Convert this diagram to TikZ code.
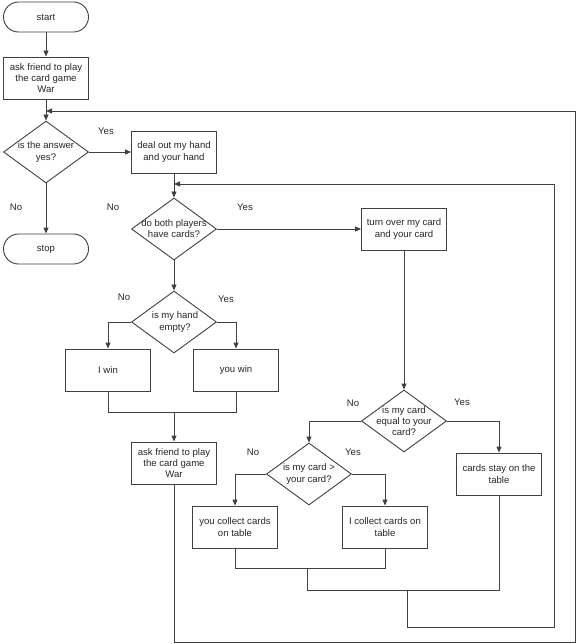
\documentclass[tikz,border=0pt]{standalone}
\usepackage{fontspec}
\setmainfont{Liberation Sans}
\usetikzlibrary{shapes.geometric,arrows.meta}
\tikzset{
  every node/.style={font=\fontsize{9.6}{11.2}\selectfont, text=black!85},
  line/.style={draw=black!75, line width=0.9bp},
  arr/.style={line, -{Triangle[length=6bp,width=5bp]}},
  term/.style={line, rectangle, rounded corners=15bp, minimum width=85bp, minimum height=30bp, inner sep=0pt},
  proc/.style={line, rectangle, minimum width=85bp, minimum height=42bp, inner sep=0pt, align=center},
  dec/.style={line, diamond, minimum width=85bp, minimum height=62bp, inner sep=0pt},
  dlab/.style={align=center, inner sep=0pt},
  ans/.style={inner sep=0pt}
}
\begin{document}
\begin{tikzpicture}[x=1bp,y=-1bp]
\useasboundingbox (0,0) rectangle (576,644);
% nodes
\node[term] (start) at (46,17) {start};
\node[proc] (ask1) at (46,78) {ask friend to play\\the card game\\War};
\node[dec] (d1) at (46,152) {};
\node[dlab] at (46,152) {is the answer\\yes?};
\node[term] (stop) at (46,249) {stop};
\node[proc] (deal) at (174,152) {deal out my hand\\and your hand};
\node[dec] (d2) at (174,229) {};
\node[dlab] at (174,229) {do both players\\have cards?};
\node[proc] (turn) at (404,229) {turn over my card\\and your card};
\node[dec] (d3) at (174,322) {};
\node[dlab] at (175,322) {is my hand\\empty?};
\node[proc] (iwin) at (108,370) {I win};
\node[proc] (youwin) at (236,370) {you win};
\node[proc] (ask2) at (174,463) {ask friend to play\\the card game\\War};
\node[dec] (d4) at (404,421) {};
\node[dlab] at (404,421) {is my card\\equal to your\\card?};
\node[dec] (d5) at (309,474) {};
\node[dlab] at (309,474) {is my card >\\your card?};
\node[proc] (stay) at (499,474) {cards stay on the\\table};
\node[proc] (you) at (235,527) {you collect cards\\on table};
\node[proc] (icol) at (385,527) {I collect cards on\\table};
% answer labels
\node[ans] (y1) at (106,131) {Yes};
\node[ans] (n1) at (16,207) {No};
\node[ans] (y2) at (245,207) {Yes};
\node[ans] (n2) at (113,207) {No};
\node[ans] (n3) at (124,297) {No};
\node[ans] (y3) at (226,299) {Yes};
\node[ans] (n4) at (353,403) {No};
\node[ans] (y4) at (462,402) {Yes};
\node[ans] (n5) at (253,452) {No};
\node[ans] (y5) at (353,452) {Yes};
% coordinates
\coordinate (c1) at (174,642);
\coordinate (c2) at (575,642);
\coordinate (c3) at (575,111);
\coordinate (c4) at (46,111);
\coordinate (m1) at (174,412);
\coordinate (m2) at (307,568);
\coordinate (m3) at (307,590);
\coordinate (m4) at (407,590);
\coordinate (m5) at (407,627);
\coordinate (m6) at (554,627);
\coordinate (m7) at (554,184);
\coordinate (m8) at (174,184);
% connectors
\draw[arr] (start) -- (ask1);
\draw[arr] (ask1) -- (d1);
\draw[arr] (d1) -- (deal);
\draw[arr] (d1) -- (stop);
\draw[arr] (deal) -- (d2);
\draw[arr] (d2) -- (turn);
\draw[arr] (d2) -- (d3);
\draw[arr] (d3.west) -| (iwin.north);
\draw[arr] (d3.east) -| (youwin.north);
\draw[line] (iwin.south) |- (m1);
\draw[line] (youwin.south) |- (m1);
\draw[arr] (m1) -- (ask2);
\draw[arr] (ask2.south) -- (c1) -- (c2) -- (c3) -- (c4);
\draw[arr] (turn) -- (d4);
\draw[arr] (d4.west) -| (d5.north);
\draw[arr] (d4.east) -| (stay.north);
\draw[arr] (d5.west) -| (you.north);
\draw[arr] (d5.east) -| (icol.north);
\draw[line] (you.south) |- (m2);
\draw[line] (icol.south) |- (m2);
\draw[line] (m2) -- (m3) -| (stay.south);
\draw[arr] (m4) -- (m5) -- (m6) -- (m7) -- (m8);
\end{tikzpicture}
\end{document}
